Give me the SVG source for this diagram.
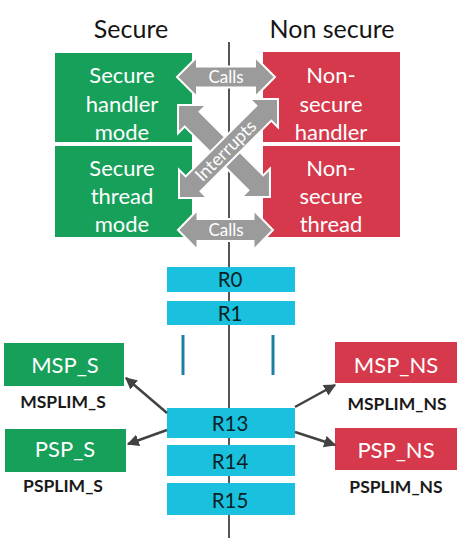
<svg xmlns="http://www.w3.org/2000/svg" width="462" height="543" viewBox="0 0 462 543">
<defs>
<style>
text{font-family:Lato,"Open Sans","DejaVu Sans",sans-serif;text-anchor:middle}
.title{font-size:25px;fill:#151515}
.sec{fill:#17a05a}
.ns{fill:#d5394b}
.reg{fill:#19c1de}
.bt{font-size:22px;fill:#ffffff}
.rt{font-size:20.5px;fill:#0a1f26}
.lim{font-size:17.5px;font-weight:bold;fill:#1a1a1a}
.big{fill:#9b9b9b;stroke:#ffffff;stroke-width:2;stroke-linejoin:miter}
.lab{font-size:17px;fill:#ffffff}
.ptr{stroke:#424242;stroke-width:2.5;fill:none;marker-end:url(#ah)}
.bar{stroke:#1b7fa3;stroke-width:3}
</style>
<marker id="ah" viewBox="0 0 10 10" refX="9" refY="5" markerWidth="12" markerHeight="12" markerUnits="userSpaceOnUse" orient="auto">
<path d="M0,0 L10,5 L0,10 Z" fill="#424242"/>
</marker>
</defs>
<rect width="462" height="543" fill="#ffffff"/>

<text class="title" x="131" y="38">Secure</text>
<text class="title" x="332" y="38">Non secure</text>

<line id="divider" x1="229" y1="42" x2="229" y2="538" stroke="#555555" stroke-width="2"/>

<g id="secure-handler">
<rect class="sec" x="55" y="53" width="137" height="89"/>
<text class="bt" x="122" y="83">Secure</text>
<text class="bt" x="122" y="112">handler</text>
<text class="bt" x="122" y="140">mode</text>
</g>
<g id="secure-thread">
<rect class="sec" x="55" y="146" width="137" height="91"/>
<text class="bt" x="122" y="176">Secure</text>
<text class="bt" x="122" y="204">thread</text>
<text class="bt" x="122" y="232">mode</text>
</g>
<g id="nonsecure-handler">
<rect class="ns" x="263" y="52" width="137" height="90"/>
<text class="bt" x="331" y="83">Non-</text>
<text class="bt" x="331" y="112">secure</text>
<text class="bt" x="331" y="140">handler</text>
</g>
<g id="nonsecure-thread">
<rect class="ns" x="263" y="146" width="137" height="91"/>
<text class="bt" x="331" y="176">Non-</text>
<text class="bt" x="331" y="204">secure</text>
<text class="bt" x="331" y="232">thread</text>
</g>

<g id="r0"><rect class="reg" x="167" y="267" width="128" height="25"/><text class="rt" x="230" y="287">R0</text></g>
<g id="r1"><rect class="reg" x="167" y="301" width="128" height="24"/><text class="rt" x="230" y="321">R1</text></g>
<g id="ellipsis">
<line class="bar" x1="183" y1="335" x2="183" y2="375"/>
<line class="bar" x1="273" y1="335" x2="273" y2="375"/>
</g>
<g id="r13"><rect class="reg" x="167" y="408" width="128" height="30"/><text class="rt" x="230" y="431">R13</text></g>
<g id="r14"><rect class="reg" x="167" y="445" width="128" height="31"/><text class="rt" x="230" y="469">R14</text></g>
<g id="r15"><rect class="reg" x="167" y="483" width="128" height="32"/><text class="rt" x="230" y="508">R15</text></g>

<g id="msp-s"><rect class="sec" x="4" y="343" width="120" height="43"/><text class="bt" x="65" y="373">MSP_S</text><text class="lim" x="63" y="408">MSPLIM_S</text></g>
<g id="psp-s"><rect class="sec" x="5" y="429" width="121" height="43"/><text class="bt" x="65" y="457">PSP_S</text><text class="lim" x="63" y="492">PSPLIM_S</text></g>
<g id="msp-ns"><rect class="ns" x="335" y="342" width="122" height="41"/><text class="bt" x="396" y="373">MSP_NS</text><text class="lim" x="397" y="410">MSPLIM_NS</text></g>
<g id="psp-ns"><rect class="ns" x="335" y="428" width="122" height="42"/><text class="bt" x="396" y="458">PSP_NS</text><text class="lim" x="396" y="493">PSPLIM_NS</text></g>

<g id="connectors">
<path class="big" transform="translate(226,77)" d="M-49,0 L-29,-20 L-29,-10.5 L29,-10.5 L29,-20 L49,0 L29,20 L29,10.5 L-29,10.5 L-29,20 Z"/>
<path class="big" transform="translate(225.5,230)" d="M-47.5,0 L-28,-20 L-28,-11 L28,-11 L28,-20 L47.5,0 L28,20 L28,11 L-28,11 L-28,20 Z"/>
<path class="big" transform="translate(224,151) rotate(45)" d="M-65,0 L-45,-20 L-45,-10.5 L45,-10.5 L45,-20 L65,0 L45,20 L45,10.5 L-45,10.5 L-45,20 Z"/>
<path class="big" transform="translate(228.5,148.5) rotate(-45)" d="M-70,0 L-50,-20 L-50,-10.5 L50,-10.5 L50,-20 L70,0 L50,20 L50,10.5 L-50,10.5 L-50,20 Z"/>
<text class="lab" x="226" y="83">Calls</text>
<text class="lab" x="226" y="236">Calls</text>
<text class="lab" style="font-size:18px" transform="translate(230,155) rotate(-45)">Interrupts</text>
<line class="ptr" x1="167" y1="413" x2="126" y2="378"/>
<line class="ptr" x1="167" y1="430" x2="128" y2="444"/>
<line class="ptr" x1="295" y1="407" x2="335" y2="385"/>
<line class="ptr" x1="295" y1="432" x2="335" y2="445"/>
</g>
</svg>
